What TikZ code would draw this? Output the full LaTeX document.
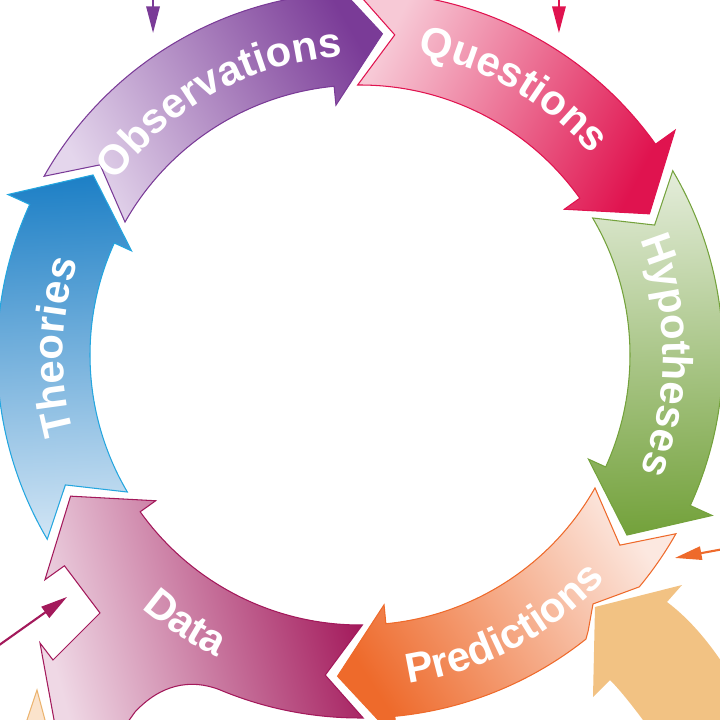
\documentclass[tikz,border=0pt]{standalone}
\usepackage{fontspec}
\setmainfont{Liberation Sans}
\usetikzlibrary{decorations.text,arrows.meta}
\definecolor{obsL}{HTML}{E4D6EC}\definecolor{obsD}{HTML}{7A3B97}
\definecolor{queL}{HTML}{F7C9D6}\definecolor{queD}{HTML}{E0134F}
\definecolor{hypL}{HTML}{E3ECD9}\definecolor{hypD}{HTML}{74A23C}
\definecolor{preL}{HTML}{FCE8E0}\definecolor{preD}{HTML}{EE6A2B}
\definecolor{datL}{HTML}{EFD8E5}\definecolor{datD}{HTML}{A3195B}
\definecolor{theL}{HTML}{D0E4F4}\definecolor{theD}{HTML}{1E80C6}\definecolor{theO}{HTML}{24A6DF}
\definecolor{peach}{HTML}{F2C283}\definecolor{peachL}{HTML}{FBE3CB}\definecolor{peachO}{HTML}{EBB36E}
\newcommand\lbl{\color{white}\fontsize{29.8}{30}\selectfont\bfseries}
\newcommand\RingArrow[2]{%
  \pgfmathsetmacro\angB{#1-55}%
  \pgfmathsetmacro\angT{#1-64.5}%
  \pgfmathsetmacro\angN{#1-6.7}%
  \draw[#2] (#1:363) arc[start angle=#1, end angle=\angB, radius=363]
    -- (\angB:387) -- (\angT:322) -- (\angB:251) -- (\angB:270)
    arc[start angle=\angB, end angle=#1, radius=270] -- (\angN:322) -- cycle;}
\tikzset{
  ring/.style={line width=0.75pt, line join=miter},
  lab/.style={decorate, decoration={text along path, text align=center, text={|\lbl|#1}}},
  smallarr/.style={line width=1.5pt, -{Triangle[length=19pt,width=9.5pt]}}
}
\begin{document}
\begin{tikzpicture}[scale=0.025]
\useasboundingbox (-360,-365) rectangle (360,355);
\clip (-360,-365) rectangle (360,355);
% ring arrows
\RingArrow{150.5}{ring, draw=obsD, top color=obsL, bottom color=obsD, shading angle=120}
\RingArrow{90.5}{ring, draw=queD, top color=queL, bottom color=queD, shading angle=63}
\RingArrow{30.5}{ring, draw=hypD, top color=hypL, bottom color=hypD, shading angle=2}
\RingArrow{210.5}{ring, draw=theO, top color=theD, bottom color=theL, shading angle=2.5}
% Predictions
\draw[ring, draw=preD, top color=preL, bottom color=preD, shading angle=-57]
  (-29.5:363) arc[start angle=-29.5, end angle=-39.7, radius=363]
  -- (-46.9:341) -- (-50.4:358) -- (-51.5:363)
  arc[start angle=-51.5, end angle=-84.5, radius=363]
  -- (-84.5:387) -- (-94:322) -- (-84.5:251) -- (-84.5:270)
  arc[start angle=-84.5, end angle=-29.5, radius=270] -- (-36.2:322) -- cycle;
% Data
\draw[ring, draw=datD, top color=datL, bottom color=datD, shading angle=105]
  (-89.5:363) arc[start angle=-89.5, end angle=-112.7, radius=363]
  .. controls (-170,-323) and (-200,-330) .. (-225,-357) -- (-250,-392)
  -- (-301,-392) -- (-320,-288) -- (-307,-305) -- (-260,-258)
  -- (215.5:363) -- (215.5:387) -- (206:322) -- (215.5:251) -- (215.5:270)
  arc[start angle=215.5, end angle=270.5, radius=270] -- (263.8:322) -- cycle;
% peach arrow (right)
\fill[peach] (235,-252) -- (322,-230) -- (307,-247)
  .. controls (335,-268) and (360,-300) .. (385,-345) -- (385,-400) -- (290,-400)
  -- (283,-365) .. controls (268,-345) and (258,-333) .. (250,-325) -- (233,-342) -- cycle;
% peach tip (bottom left)
\draw[line width=0.75pt, draw=peachO, fill=peachL] (-343,-395) -- (-323,-335) -- (-307,-395);
% labels
\path[lab=Observations] (159:299) arc[start angle=159, end angle=79, radius=299];
\path[lab=Questions] (100:306) arc[start angle=100, end angle=20, radius=306];
\path[lab=Hypotheses] (40:303) arc[start angle=40, end angle=-40, radius=303];
\path[lab=Theories] (218.5:297) arc[start angle=218.5, end angle=138.5, radius=297];
\path[lab=Predictions] (-102:332) arc[start angle=-102, end angle=-22, radius=332];
\path[lab=Data] (-163:334) arc[start angle=-163, end angle=-83, radius=334];
% small input arrows
\coordinate (pS) at (-207,372); \coordinate (pT) at (-207,322);
\coordinate (cS) at (199,372);  \coordinate (cT) at (199,322);
\coordinate (oS) at (375,-192); \coordinate (oT) at (315,-203);
\coordinate (mS) at (-372,-298); \coordinate (mT) at (-293,-242);
\draw[smallarr, draw=obsD, fill=obsD] (pS) -- (pT);
\draw[smallarr, draw=queD, fill=queD] (cS) -- (cT);
\draw[smallarr, draw=preD, fill=preD] (oS) -- (oT);
\draw[smallarr, draw=datD, fill=datD] (mS) -- (mT);
\end{tikzpicture}
\end{document}
